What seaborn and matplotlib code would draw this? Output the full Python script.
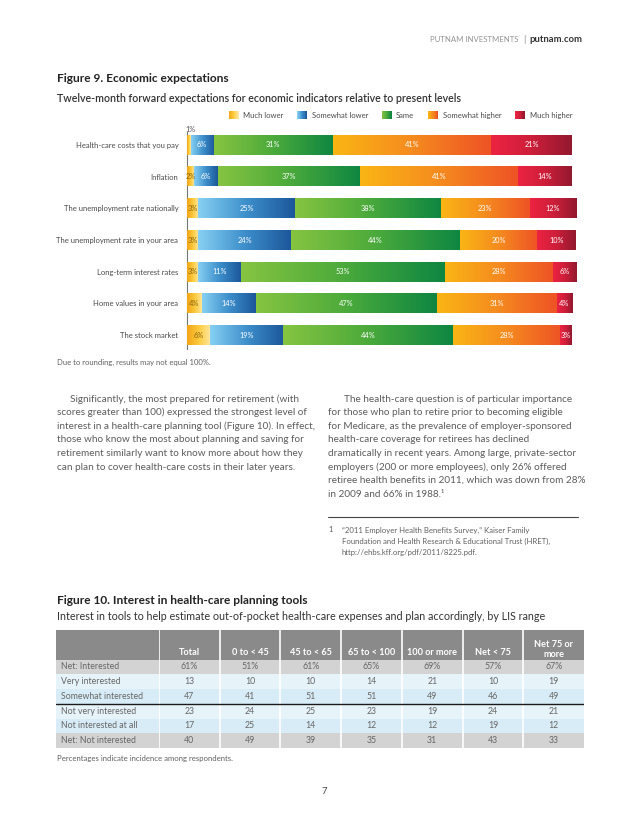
import numpy as np
import pandas as pd
import matplotlib
matplotlib.use("Agg")
import matplotlib.pyplot as plt
import seaborn as sns
from matplotlib.colors import LinearSegmentedColormap, ListedColormap
from matplotlib.legend_handler import HandlerBase
from matplotlib.patches import Rectangle, Patch
from matplotlib.lines import Line2D

# ---- Figure 9 data ----
indicators = ["Health-care costs that you pay", "Inflation",
              "The unemployment rate nationally", "The unemployment rate in your area",
              "Long-term interest rates", "Home values in your area", "The stock market"]
responses = ["Much lower", "Somewhat lower", "Same", "Somewhat higher", "Much higher"]
much_lower = [1, 2, 3, 3, 3, 4, 6]
somewhat_lower = [6, 6, 25, 24, 11, 14, 19]
same = [31, 37, 38, 44, 53, 47, 44]
somewhat_higher = [41, 41, 23, 20, 28, 31, 28]
much_higher = [21, 14, 12, 10, 6, 4, 3]

# ---- Figure 10 data ----
tbl_columns = ["Total", "0 to < 45", "45 to < 65", "65 to < 100", "100 or more", "Net < 75", "Net 75 or\nmore"]
tbl_rows = ["Net: Interested", "Very interested", "Somewhat interested",
            "Not very interested", "Not interested at all", "Net: Not interested"]
net_interested = [61, 51, 61, 65, 69, 57, 67]
very_interested = [13, 10, 10, 14, 21, 10, 19]
somewhat_interested = [47, 41, 51, 51, 49, 46, 49]
not_very_interested = [23, 24, 25, 23, 19, 24, 21]
not_interested_at_all = [17, 25, 14, 12, 12, 19, 12]
net_not_interested = [40, 49, 39, 35, 31, 43, 33]

# gradient colours per response (left -> right)
grads = {
    "Much lower": ["#F2A516", "#FCCB3E", "#FFE7A0"],
    "Somewhat lower": ["#86D0F3", "#3D8FCB", "#1C579A"],
    "Same": ["#86C441", "#4BAA3B", "#0E8642"],
    "Somewhat higher": ["#FAB514", "#F58B1F", "#EE5325"],
    "Much higher": ["#EC2341", "#CD1E3A", "#93192F"],
}

W, H = 638, 826
def fx(x):
    return x / W
def fy(y):
    return 1 - y / H

sns.set_style("white")
plt.rcParams["font.family"] = ["Lato", "DejaVu Sans"]

fig = plt.figure(figsize=(W / 100, H / 100), dpi=100)
fig.patch.set_facecolor("white")

# ---- page header ----
fig.text(fx(518), fy(39), "PUTNAM INVESTMENTS", ha="right", va="center",
         fontsize=5.6, color="#949494")
fig.text(fx(524), fy(39), "|", ha="center", va="center", fontsize=6.5, color="#888888")
fig.text(fx(582), fy(39), "putnam.com", ha="right", va="center",
         fontsize=6.8, color="#333333", fontweight="bold")

# ---- Figure 9 titles ----
fig.text(fx(57), fy(78), "Figure 9. Economic expectations", ha="left", va="center",
         fontsize=8.6, fontweight="bold", color="#222222")
fig.text(fx(57), fy(99), "Twelve-month forward expectations for economic indicators relative to present levels",
         ha="left", va="center", fontsize=7.7, fontweight="semibold", color="#333333")

# ---- stacked bars ----
ax = fig.add_axes([fx(186.7), fy(349.3), (577.8 - 186.7) / W, (349.3 - 132.3) / H])
df = pd.DataFrame({"indicator": indicators, "Much lower": much_lower,
                   "Somewhat lower": somewhat_lower, "Same": same,
                   "Somewhat higher": somewhat_higher, "Much higher": much_higher})
cum = df[responses].cumsum(axis=1)
cum.insert(0, "indicator", indicators)

seg_patches = {}
for r in reversed(responses):
    n0 = len(ax.patches)
    sns.barplot(data=cum, x=r, y="indicator", color=grads[r][1], orient="h",
                width=0.62, saturation=1, edgecolor="none", ax=ax)
    seg_patches[r] = ax.patches[n0:]

grad_row = np.linspace(0, 1, 128).reshape(1, -1)
for k, r in enumerate(responses):
    cmap = LinearSegmentedColormap.from_list(r, grads[r])
    for i, p in enumerate(seg_patches[r]):
        x1 = p.get_width()
        x0 = seg_patches[responses[k - 1]][i].get_width() if k > 0 else 0
        y0, h = p.get_y(), p.get_height()
        ax.imshow(grad_row, cmap=cmap, extent=(x0, x1, y0 + h, y0),
                  aspect="auto", zorder=3, interpolation="bilinear")
        val = df[r].iloc[i]
        yc = y0 + h / 2
        if k == 0:
            if val < 2:
                ax.text((x0 + x1) / 2 + 0.4, y0 - 0.17, f"{val}%", ha="center", va="center",
                        fontsize=5.3, color="#555555", zorder=4)
            else:
                ax.text((x0 + x1) / 2, yc, f"{val}%", ha="center", va="center",
                        fontsize=5.3, color="#8a6412", zorder=4)
        else:
            ax.text((x0 + x1) / 2, yc, f"{val}%", ha="center", va="center",
                    fontsize=5.3, color="white", zorder=4)

ax.set_xlim(0, 101.5)
ax.set_ylim(6.45, -0.4)
ax.set_xlabel("")
ax.set_ylabel("")
ax.set_xticks([])
for s in ["top", "right", "bottom"]:
    ax.spines[s].set_visible(False)
ax.spines["left"].set_color("#777777")
ax.spines["left"].set_linewidth(0.8)
ax.tick_params(axis="y", length=0, pad=6, labelsize=5.5, labelcolor="#4a4a4a")


class GradientHandler(HandlerBase):
    def __init__(self, colors):
        super().__init__()
        self.colors = colors

    def create_artists(self, legend, orig_handle, xdescent, ydescent, width, height, fontsize, trans):
        cmap = LinearSegmentedColormap.from_list("g", self.colors)
        n = 16
        arts = []
        for j in range(n):
            arts.append(Rectangle((-xdescent + width * j / n, -ydescent), width / n * 1.05, height,
                                  facecolor=cmap(j / (n - 1)), edgecolor="none", transform=trans))
        return arts


handles = [Patch(facecolor=grads[r][1], label=r) for r in responses]
hmap = {h: GradientHandler(grads[r]) for h, r in zip(handles, responses)}
ax.legend(handles, responses, handler_map=hmap, ncol=5, loc="center right",
          bbox_to_anchor=(fx(572), fy(115)), bbox_transform=fig.transFigure,
          frameon=False, fontsize=5.5, labelcolor="#4a4a4a", handlelength=1.3,
          handleheight=1.3, handletextpad=0.6, columnspacing=1.8, borderpad=0, borderaxespad=0)

fig.text(fx(57), fy(362), "Due to rounding, results may not equal 100%.", ha="left", va="center",
         fontsize=5.5, color="#606060")

# ---- body text ----
left_par = ["Significantly, the most prepared for retirement (with",
            "scores greater than 100) expressed the strongest level of",
            "interest in a health-care planning tool (Figure 10). In effect,",
            "those who know the most about planning and saving for",
            "retirement similarly want to know more about how they",
            "can plan to cover health-care costs in their later years."]
right_par = ["The health-care question is of particular importance",
             "for those who plan to retire prior to becoming eligible",
             "for Medicare, as the prevalence of employer-sponsored",
             "health-care coverage for retirees has declined",
             "dramatically in recent years. Among large, private-sector",
             "employers (200 or more employees), only 26% offered",
             "retiree health benefits in 2011, which was down from 28%",
             "in 2009 and 66% in 1988.\u00b9"]
body_kw = dict(ha="left", va="center", fontsize=7.2, color="#5c5c5c")
for i, line in enumerate(left_par):
    fig.text(fx(70 if i == 0 else 57), fy(399 + 13.6 * i), line, **body_kw)
for i, line in enumerate(right_par):
    fig.text(fx(344 if i == 0 else 328), fy(399 + 13.6 * i), line, **body_kw)

fig.add_artist(Line2D([fx(328), fx(578)], [fy(517), fy(517)], color="#444444", lw=0.8))
foot_kw = dict(ha="left", va="center", fontsize=5.6, color="#606060")
fig.text(fx(328), fy(530), "1", **foot_kw)
fig.text(fx(342), fy(530), "\u201c2011 Employer Health Benefits Survey,\u201d Kaiser Family", **foot_kw)
fig.text(fx(342), fy(541), "Foundation and Health Research & Educational Trust (HRET),", **foot_kw)
fig.text(fx(342), fy(552), "http://ehbs.kff.org/pdf/2011/8225.pdf.", **foot_kw)

# ---- Figure 10 ----
fig.text(fx(57), fy(601), "Figure 10. Interest in health-care planning tools", ha="left", va="center",
         fontsize=8.6, fontweight="bold", color="#222222")
fig.text(fx(57), fy(617), "Interest in tools to help estimate out-of-pocket health-care expenses and plan accordingly, by LIS range",
         ha="left", va="center", fontsize=7.75, color="#333333")

row_codes = [0, 0, 1, 2, 3, 2, 3, 1]
tbl_cmap = ListedColormap(["#8a8a8a", "#d3d3d3", "#e6f3f9", "#d7ecf6"])
values = [net_interested, very_interested, somewhat_interested,
          not_very_interested, not_interested_at_all, net_not_interested]
annot = [[""] * 7, [""] * 7] + [[f"{v}%" if r == 0 else f"{v}" for v in row] for r, row in enumerate(values)]
codes = np.repeat(np.array(row_codes)[:, None], 7, axis=1)

tab_top, tab_bot = 630, 748
ax_lab = fig.add_axes([fx(56), fy(tab_bot), 103 / W, (tab_bot - tab_top) / H])
sns.heatmap(np.array(row_codes)[:, None], cmap=tbl_cmap, vmin=-0.5, vmax=3.5, cbar=False,
            xticklabels=False, yticklabels=False, ax=ax_lab)
for i, lab in enumerate(tbl_rows):
    ax_lab.text(0.05, i + 2.5, lab, ha="left", va="center", fontsize=6.3, color="#666666")
ax_lab.axhline(5, color="#1a1a1a", lw=1)

ax_tab = fig.add_axes([fx(159), fy(tab_bot), 425 / W, (tab_bot - tab_top) / H])
sns.heatmap(codes, cmap=tbl_cmap, vmin=-0.5, vmax=3.5, cbar=False, annot=np.array(annot), fmt="",
            annot_kws={"fontsize": 6.3, "color": "#666666"},
            xticklabels=False, yticklabels=False, ax=ax_tab)
for x in range(0, 7):
    ax_tab.axvline(x, color="white", lw=1.2)
ax_tab.axhline(5, color="#1a1a1a", lw=1)
for j, c in enumerate(tbl_columns):
    ax_tab.text(j + 0.5, 1.3 if "\n" in c else 1.55, c, ha="center", va="center", fontsize=6.6,
                color="white", fontweight="bold", linespacing=1.15)

fig.text(fx(57), fy(759), "Percentages indicate incidence among respondents.", ha="left", va="center",
         fontsize=5.6, color="#606060")
fig.text(fx(324), fy(792), "7", ha="center", va="center", fontsize=6.8, color="#444444")

fig.savefig("out.png", dpi=100)
